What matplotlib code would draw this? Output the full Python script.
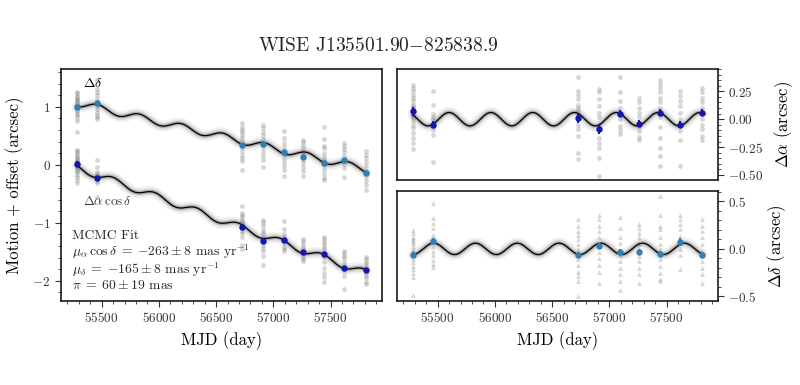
import numpy as np
import matplotlib
matplotlib.use("Agg")
import matplotlib.pyplot as plt
from matplotlib.ticker import MultipleLocator

plt.rcParams['font.family'] = ['cmr10', 'DejaVu Serif']
plt.rcParams['mathtext.fontset'] = 'cm'
plt.rcParams['axes.formatter.use_mathtext'] = True
plt.rcParams['axes.unicode_minus'] = True

# ---------------- data ----------------
title = r"WISE J135501.90$-$825838.9"
epochs = [55285, 55460, 56729, 56910, 57094, 57262, 57444, 57619, 57809]

# per-epoch single-exposure residuals (parallax + noise), arcsec
ra_pts = [
    [0.31, 0.28, 0.25, 0.22, 0.19, 0.16, 0.13, 0.10, 0.07, 0.04, 0.01, -0.02, -0.05, -0.08, -0.12, -0.17, -0.21, -0.27, 0.12, 0.08, 0.03],
    [0.25, 0.13, 0.05, 0.00, -0.03, -0.07, -0.10, -0.14, -0.38, -0.05, 0.02],
    [0.38, 0.25, 0.22, 0.18, 0.13, 0.10, 0.07, 0.03, 0.00, -0.05, -0.09, -0.15, -0.30, -0.36],
    [0.27, 0.24, 0.18, 0.12, 0.06, 0.02, -0.05, -0.09, -0.17, -0.21, -0.26, -0.35, -0.51],
    [0.38, 0.24, 0.16, 0.10, 0.06, 0.00, -0.06, -0.10, -0.13],
    [0.19, 0.15, 0.10, 0.06, 0.02, -0.03, -0.07, -0.11, -0.16, -0.19],
    [0.35, 0.32, 0.28, 0.24, 0.19, 0.15, 0.10, 0.06, 0.02, -0.07, -0.17, -0.26, -0.33, -0.42],
    [0.25, 0.21, 0.16, 0.12, 0.06, 0.00, -0.05, -0.11, -0.19, -0.42],
    [0.28, 0.24, 0.19, 0.15, 0.10, 0.06, 0.00, -0.05, -0.09, -0.15, -0.19],
]
dec_pts = [
    [0.20, 0.17, 0.13, 0.10, 0.06, 0.03, 0.00, -0.04, -0.07, -0.11, -0.14, -0.18, -0.21, -0.25, -0.30, -0.49, 0.08, -0.02],
    [0.48, 0.33, 0.27, 0.22, 0.15, 0.10, 0.03, -0.02, -0.07, -0.12, -0.16, -0.19],
    [0.31, 0.24, 0.19, 0.15, 0.10, 0.05, 0.00, -0.06, -0.11, -0.17, -0.24, -0.29, -0.34, -0.50],
    [0.36, 0.31, 0.24, 0.19, 0.12, 0.03, -0.03, -0.10, -0.17, -0.24, -0.36],
    [0.34, 0.22, 0.13, 0.06, -0.03, -0.06, -0.13, -0.20, -0.27, -0.34, -0.43],
    [0.26, 0.22, 0.17, 0.12, 0.05, 0.00, -0.08, -0.13, -0.20, -0.27, -0.36],
    [0.56, 0.36, 0.24, 0.21, 0.12, 0.05, 0.00, -0.04, -0.11, -0.18, -0.25, -0.32, -0.34],
    [0.36, 0.31, 0.26, 0.21, 0.14, 0.07, 0.00, -0.07, -0.21],
    [0.31, 0.24, 0.19, 0.12, 0.05, -0.02, -0.07, -0.13, -0.20, -0.27, -0.36],
]
ra_mean = [0.07, -0.05, 0.01, -0.09, 0.05, -0.04, 0.06, -0.05, 0.06]
ra_err = [0.04, 0.03, 0.04, 0.04, 0.03, 0.03, 0.03, 0.03, 0.03]
dec_mean = [-0.06, 0.08, -0.06, 0.03, -0.03, -0.03, -0.05, 0.07, -0.07]
dec_err = [0.03, 0.03, 0.03, 0.03, 0.03, 0.03, 0.03, 0.04, 0.03]

# fit parameters
mu_a = -263      # mas/yr
mu_a_err = 8
mu_d = -165      # mas/yr
mu_d_err = 8
plx = 60         # mas
plx_err = 19
ra_peak_mjd = 55600   # epoch of max parallax offset in RA
dec_peak_mjd = 55465  # epoch of max parallax offset in Dec
ra_offset = -0.05
dec_offset = 1.06
t_ref = epochs[0]

# ---------------- model ----------------
def par_a(t):
    return plx / 1000.0 * np.cos(2 * np.pi * (np.asarray(t) - ra_peak_mjd) / 365.25)

def par_d(t):
    return plx / 1000.0 * np.cos(2 * np.pi * (np.asarray(t) - dec_peak_mjd) / 365.25)

def pm_a(t):
    return ra_offset + mu_a / 1000.0 * (np.asarray(t) - t_ref) / 365.25

def pm_d(t):
    return dec_offset + mu_d / 1000.0 * (np.asarray(t) - t_ref) / 365.25

xlim = (55145, 57950)
tt = np.linspace(epochs[0], epochs[-1], 1200)

dark_blue = '#1515b0'
steel = '#2f7fb3'
ptcol = '#707070'

fig = plt.figure(figsize=(8.0, 3.85), dpi=100)
W, H = 800.0, 385.0
def rect(x0, y0, x1, y1):
    return [x0 / W, 1 - y1 / H, (x1 - x0) / W, (y1 - y0) / H]

axL = fig.add_axes(rect(61, 69, 382, 301))
axT = fig.add_axes(rect(397, 69, 718, 180))
axB = fig.add_axes(rect(397, 191, 718, 301))

def draw_model(ax, x, y):
    ax.plot(x, y, color='0.55', lw=8, alpha=0.12, solid_capstyle='round', zorder=2)
    ax.plot(x, y, color='0.45', lw=5, alpha=0.18, solid_capstyle='round', zorder=2)
    ax.plot(x, y, color='0.3', lw=2.6, alpha=0.35, zorder=2)
    ax.plot(x, y, color='black', lw=0.9, zorder=3)

# ---- left panel ----
for i, t in enumerate(epochs):
    ya = pm_a(t) + np.array(ra_pts[i])
    yd = pm_d(t) + np.array(dec_pts[i])
    axL.plot([t] * len(ya), ya, 'o', ms=3.5, color=ptcol, alpha=0.28, mec='none', zorder=1)
    axL.plot([t] * len(yd), yd, 'o', ms=3.5, color=ptcol, alpha=0.28, mec='none', zorder=1)
draw_model(axL, tt, pm_a(tt) + par_a(tt))
draw_model(axL, tt, pm_d(tt) + par_d(tt))
ep = np.array(epochs)
axL.errorbar(ep, pm_a(ep) + np.array(ra_mean), yerr=ra_err, fmt='o', ms=3.6,
             color=dark_blue, elinewidth=1.5, capsize=0, zorder=4)
axL.errorbar(ep, pm_d(ep) + np.array(dec_mean), yerr=dec_err, fmt='o', ms=3.6,
             color=steel, elinewidth=1.5, capsize=0, zorder=4)
axL.set_xlim(*xlim)
axL.set_ylim(-2.35, 1.65)
axL.yaxis.set_major_locator(MultipleLocator(1))
axL.yaxis.set_minor_locator(MultipleLocator(0.2))
axL.set_ylabel('Motion + offset (arcsec)', fontsize=12, labelpad=6)
axL.set_xlabel('MJD (day)', fontsize=12)
axL.text(0.07, 0.965, r'$\Delta\delta$', transform=axL.transAxes, fontsize=10, va='top', ha='left')
axL.text(0.07, 0.43, r'$\Delta\alpha\,\cos\delta$', transform=axL.transAxes, fontsize=9.5,
         va='center', ha='left', color='0.25')

fit_lines = [
    "MCMC Fit",
    rf"$\mu_\alpha\,\cos\delta \;=\; {{{mu_a}}} \pm {mu_a_err}$ mas yr$^{{-1}}$",
    rf"$\mu_\delta \;=\; {{{mu_d}}} \pm {mu_d_err}$ mas yr$^{{-1}}$",
    rf"$\pi \;=\; {plx} \pm {plx_err}$ mas",
]
fit_y = [236, 252, 269.5, 285.5]
for s, yp in zip(fit_lines, fit_y):
    fig.text(72 / W, 1 - yp / H, s, fontsize=9.8, va='center', ha='left', color='0.15')

# ---- right top ----
for i, t in enumerate(epochs):
    axT.plot([t] * len(ra_pts[i]), ra_pts[i], 'o', ms=3.5, color=ptcol, alpha=0.28, mec='none', zorder=1)
draw_model(axT, tt, par_a(tt))
axT.errorbar(ep, ra_mean, yerr=ra_err, fmt='o', ms=3.6, color=dark_blue,
             elinewidth=1.5, capsize=0, zorder=4)
axT.set_xlim(*xlim)
axT.set_ylim(-0.545, 0.45)
axT.yaxis.set_major_locator(MultipleLocator(0.25))
axT.yaxis.set_minor_locator(MultipleLocator(0.05))
axT.yaxis.tick_right()
axT.yaxis.set_label_position('right')
axT.set_ylabel(r'$\Delta\alpha$ (arcsec)', fontsize=12, labelpad=6)
axT.tick_params(axis='x', which='both', labelbottom=False, bottom=False)

# ---- right bottom ----
for i, t in enumerate(epochs):
    axB.plot([t] * len(dec_pts[i]), dec_pts[i], '^', ms=3.5, color=ptcol, alpha=0.28, mec='none', zorder=1)
draw_model(axB, tt, par_d(tt))
axB.errorbar(ep, dec_mean, yerr=dec_err, fmt='o', ms=3.6, color=steel,
             elinewidth=1.5, capsize=0, zorder=4)
axB.set_xlim(*xlim)
axB.set_ylim(-0.55, 0.61)
axB.yaxis.set_major_locator(MultipleLocator(0.5))
axB.yaxis.set_minor_locator(MultipleLocator(0.1))
axB.yaxis.tick_right()
axB.yaxis.set_label_position('right')
axB.set_ylabel(r'$\Delta\delta$ (arcsec)', fontsize=12, labelpad=6)
axB.set_xlabel('MJD (day)', fontsize=12)

for ax in (axL, axB):
    ax.xaxis.set_major_locator(MultipleLocator(500))
    ax.xaxis.set_minor_locator(MultipleLocator(100))
for ax in (axL, axT, axB):
    ax.tick_params(which='both', direction='out', labelsize=9.5, colors='0.2')
    ax.tick_params(which='major', length=4)
    ax.tick_params(which='minor', length=2.2)
    for s in ax.spines.values():
        s.set_linewidth(1.2)
        s.set_color('0.1')

fig.text(378 / W, 1 - 46 / H, title, ha='center', va='center', fontsize=14, color='0.15')

fig.savefig('out.png', dpi=100)
